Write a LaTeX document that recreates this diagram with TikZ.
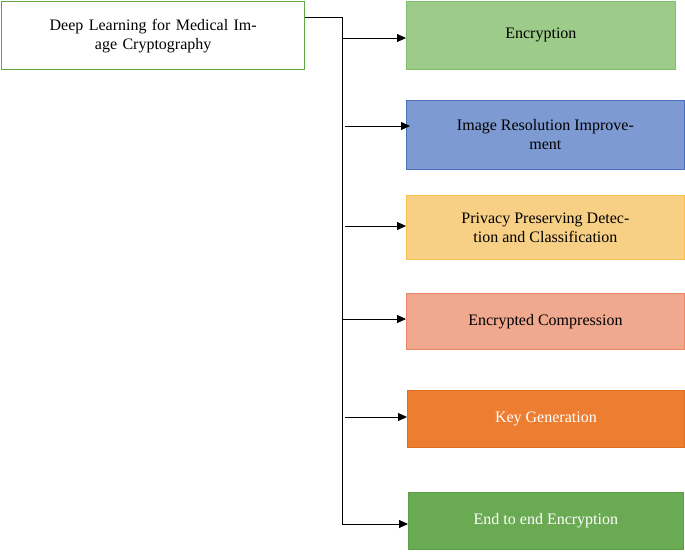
\documentclass[tikz,border=0pt]{standalone}
\usepackage{fontspec}
\setmainfont{Liberation Serif}
\usetikzlibrary{arrows.meta}
\definecolor{gA}{HTML}{9DCB8A}
\definecolor{gAb}{HTML}{7FBF6A}
\definecolor{bB}{HTML}{7E9AD2}
\definecolor{bBb}{HTML}{4A6FB8}
\definecolor{yC}{HTML}{F7CF85}
\definecolor{yCb}{HTML}{F5C14A}
\definecolor{sD}{HTML}{F0A88E}
\definecolor{sDb}{HTML}{E9876A}
\definecolor{oE}{HTML}{ED7D31}
\definecolor{oEb}{HTML}{E07020}
\definecolor{gF}{HTML}{6AAA52}
\definecolor{gFb}{HTML}{5C9E45}
\definecolor{rootb}{HTML}{5FA845}
\begin{document}
\begin{tikzpicture}[x=1pt,y=-1pt,
  font=\fontsize{16}{19}\selectfont,
  itembox/.style={draw=#1,line width=0.8pt,minimum height=#1,anchor=north west,align=center,inner sep=2pt},
  conn/.style={-{Triangle[length=9pt,width=8pt]},line width=0.8pt},
  trunk/.style={line width=0.8pt}]
\useasboundingbox (0,0) rectangle (685,552);
\node[draw=rootb,line width=1.4pt,fill=white,minimum width=303pt,minimum height=68pt,anchor=north west,align=center,text width=260pt] (root) at (1,1) {Deep Learning for Medical Im-\\age Cryptography};
\tikzset{bx/.style 2 args={draw=#2,fill=#1,line width=0.8pt,anchor=north west,align=center,inner sep=0pt}}
\node[bx={gA}{gAb},minimum width=269pt,minimum height=68pt] (b1) at (406,1) {Encryption};
\node[bx={bB}{bBb},minimum width=278pt,minimum height=69pt] (b2) at (406,100) {Image Resolution Improve-\\ment};
\node[bx={yC}{yCb},minimum width=278pt,minimum height=64pt] (b3) at (406,195) {Privacy Preserving Detec-\\tion and Classification};
\node[bx={sD}{sDb},minimum width=278pt,minimum height=56pt] (b4) at (406,293) {Encrypted Compression};
\node[bx={oE}{oEb},minimum width=277pt,minimum height=57pt,text=white] (b5) at (407,390) {Key Generation};
\node[bx={gF}{gFb},minimum width=275pt,minimum height=57pt,text=white] (b6) at (408,492) {End to end Encryption};
\coordinate (t0) at (342,17);
\coordinate (tE) at (342,525);
\draw[trunk] (root.east |- t0) -- (t0) -- (tE);
\coordinate (a1) at (342,38);
\coordinate (a2) at (345,126);
\coordinate (a3) at (345,226);
\coordinate (a4) at (342,319);
\coordinate (a5) at (345,417);
\coordinate (a6) at (342,524);
\draw[conn] (a1) -- (a1 -| b1.west);
\draw[conn] (a2) -- ([xshift=4pt]a2 -| b2.west);
\draw[conn] (a3) -- (a3 -| b3.west);
\draw[conn] (a4) -- (a4 -| b4.west);
\draw[conn] (a5) -- (a5 -| b5.west);
\draw[conn] (a6) -- (a6 -| b6.west);
\end{tikzpicture}
\end{document}
